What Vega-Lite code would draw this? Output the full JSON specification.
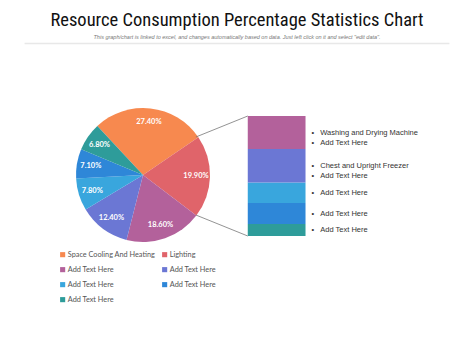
{
  "$schema": "https://vega.github.io/schema/vega-lite/v6.json",
  "width": 474,
  "height": 310,
  "autosize": {"type": "none"},
  "padding": {"top": 45, "left": 0, "right": 0, "bottom": 0},
  "background": "white",
  "title": {
    "text": "Resource Consumption Percentage Statistics Chart",
    "subtitle": "This graph/chart is linked to excel, and changes automatically  based on data. Just left click on it and select \"edit data\".",
    "anchor": "middle",
    "frame": "group",
    "font": "'Liberation Sans Narrow', 'Roboto Condensed', Roboto",
    "fontSize": 18.5,
    "fontWeight": "normal",
    "color": "#111111",
    "subtitleFont": "'Liberation Sans', Arial",
    "subtitleFontSize": 5.5,
    "subtitleFontStyle": "italic",
    "subtitleColor": "#777777",
    "subtitlePadding": 6,
    "offset": 2
  },
  "config": {"view": {"stroke": null}},
  "datasets": {
    "pie": [
      {"cat": "Space Cooling And Heating", "pct": 0.274, "idx": 1},
      {"cat": "Lighting", "pct": 0.199, "idx": 2},
      {"cat": "Add Text Here 1", "pct": 0.186, "idx": 3},
      {"cat": "Add Text Here 2", "pct": 0.124, "idx": 4},
      {"cat": "Add Text Here 3", "pct": 0.078, "idx": 5},
      {"cat": "Add Text Here 4", "pct": 0.071, "idx": 6},
      {"cat": "Add Text Here 5", "pct": 0.068, "idx": 7}
    ],
    "bar": [
      {"cat": "Add Text Here 5", "h": 12, "idx": 1, "label": ["•\u00a0\u00a0\u00a0Add Text Here"]},
      {"cat": "Add Text Here 4", "h": 21, "idx": 2, "label": ["•\u00a0\u00a0\u00a0Add Text Here"]},
      {"cat": "Add Text Here 3", "h": 20.5, "idx": 3, "label": ["•\u00a0\u00a0\u00a0Add Text Here"]},
      {"cat": "Add Text Here 2", "h": 33.5, "idx": 4, "label": ["•\u00a0\u00a0\u00a0Chest and Upright Freezer", "•\u00a0\u00a0\u00a0Add Text Here"]},
      {"cat": "Add Text Here 1", "h": 33, "idx": 5, "label": ["•\u00a0\u00a0\u00a0Washing and Drying Machine", "•\u00a0\u00a0\u00a0Add Text Here"]}
    ]
  },
  "layer": [
    {
      "data": {"values": [{}]},
      "mark": {"type": "rule", "color": "#e8e8e8", "strokeWidth": 1.5},
      "encoding": {
        "x": {"datum": 20, "type": "quantitative", "scale": {"domain": [0, 474], "nice": false, "zero": false}, "axis": null},
        "x2": {"datum": 454},
        "y": {"datum": 192.5, "type": "quantitative", "scale": {"domain": [-119, 191], "nice": false, "zero": false}, "axis": null}
      }
    },
    {
      "data": {"name": "pie"},
      "mark": {"type": "arc", "radius": 67},
      "encoding": {
        "x": {"datum": 141, "type": "quantitative", "scale": {"domain": [0, 474], "nice": false, "zero": false}, "axis": null},
        "y": {"datum": 61, "type": "quantitative", "scale": {"domain": [-119, 191], "nice": false, "zero": false}, "axis": null},
        "theta": {"field": "pct", "type": "quantitative", "stack": true, "scale": {"range": [-0.75, 5.5332]}},
        "color": {
          "field": "cat",
          "type": "nominal",
          "scale": {
            "domain": ["Space Cooling And Heating", "Add Text Here 1", "Add Text Here 3", "Add Text Here 5", "Lighting", "Add Text Here 2", "Add Text Here 4"],
            "range": ["#F7894F", "#B3619B", "#39A6DD", "#2E9C9A", "#E0646A", "#6B77D4", "#2E87D8"]
          },
          "legend": {
            "orient": "none",
            "legendX": 59,
            "legendY": 206,
            "columns": 2,
            "title": null,
            "padding": 0,
            "symbolType": "square",
            "symbolSize": 26,
            "symbolStrokeWidth": 0,
            "labelFont": "Lato",
            "labelFontSize": 7.3,
            "labelColor": "#555555",
            "labelOffset": 1.5,
            "rowPadding": 7,
            "columnPadding": 5,
            "labelExpr": "replace(datum.label, / \\d$/, '')"
          }
        },
        "order": {"field": "idx", "type": "quantitative"}
      }
    },
    {
      "data": {"name": "pie"},
      "mark": {"type": "text", "radius": 53, "font": "Lato", "fontWeight": "bold", "fontSize": 7.5, "color": "white"},
      "encoding": {
        "x": {"datum": 141, "type": "quantitative", "scale": {"domain": [0, 474], "nice": false, "zero": false}, "axis": null},
        "y": {"datum": 61, "type": "quantitative", "scale": {"domain": [-119, 191], "nice": false, "zero": false}, "axis": null},
        "theta": {"field": "pct", "type": "quantitative", "stack": true, "scale": {"range": [-0.75, 5.5332]}},
        "order": {"field": "idx", "type": "quantitative"},
        "text": {"field": "pct", "type": "quantitative", "format": ".2%"}
      }
    },
    {
      "data": {"values": [{}]},
      "mark": {"type": "rule", "color": "#777777", "strokeWidth": 0.8},
      "encoding": {
        "x": {"datum": 195, "type": "quantitative", "scale": {"domain": [0, 474], "nice": false, "zero": false}, "axis": null},
        "x2": {"datum": 248},
        "y": {"datum": 99, "type": "quantitative", "scale": {"domain": [-119, 191], "nice": false, "zero": false}, "axis": null},
        "y2": {"datum": 120}
      }
    },
    {
      "data": {"values": [{}]},
      "mark": {"type": "rule", "color": "#777777", "strokeWidth": 0.8},
      "encoding": {
        "x": {"datum": 195, "type": "quantitative", "scale": {"domain": [0, 474], "nice": false, "zero": false}, "axis": null},
        "x2": {"datum": 248},
        "y": {"datum": 21, "type": "quantitative", "scale": {"domain": [-119, 191], "nice": false, "zero": false}, "axis": null},
        "y2": {"datum": 0}
      }
    },
    {
      "data": {"name": "bar"},
      "mark": {"type": "bar", "orient": "vertical"},
      "encoding": {
        "x": {"datum": 248, "type": "quantitative", "scale": {"domain": [0, 474], "nice": false, "zero": false}, "axis": null},
        "x2": {"datum": 307},
        "y": {"field": "h", "type": "quantitative", "stack": "zero", "scale": {"domain": [-119, 191], "nice": false, "zero": false}, "axis": null},
        "color": {"field": "cat", "type": "nominal", "legend": null},
        "order": {"field": "idx", "type": "quantitative"}
      }
    },
    {
      "data": {"name": "bar"},
      "mark": {"type": "text", "align": "left", "baseline": "middle", "font": "'Liberation Sans', Arial", "fontSize": 7.5, "lineHeight": 10, "color": "#333333"},
      "encoding": {
        "x": {"datum": 313, "type": "quantitative", "scale": {"domain": [0, 474], "nice": false, "zero": false}, "axis": null},
        "y": {"field": "h", "type": "quantitative", "stack": "zero", "bandPosition": 0.5, "scale": {"domain": [-119, 191], "nice": false, "zero": false}, "axis": null},
        "order": {"field": "idx", "type": "quantitative"},
        "text": {"field": "label"}
      }
    }
  ]
}
